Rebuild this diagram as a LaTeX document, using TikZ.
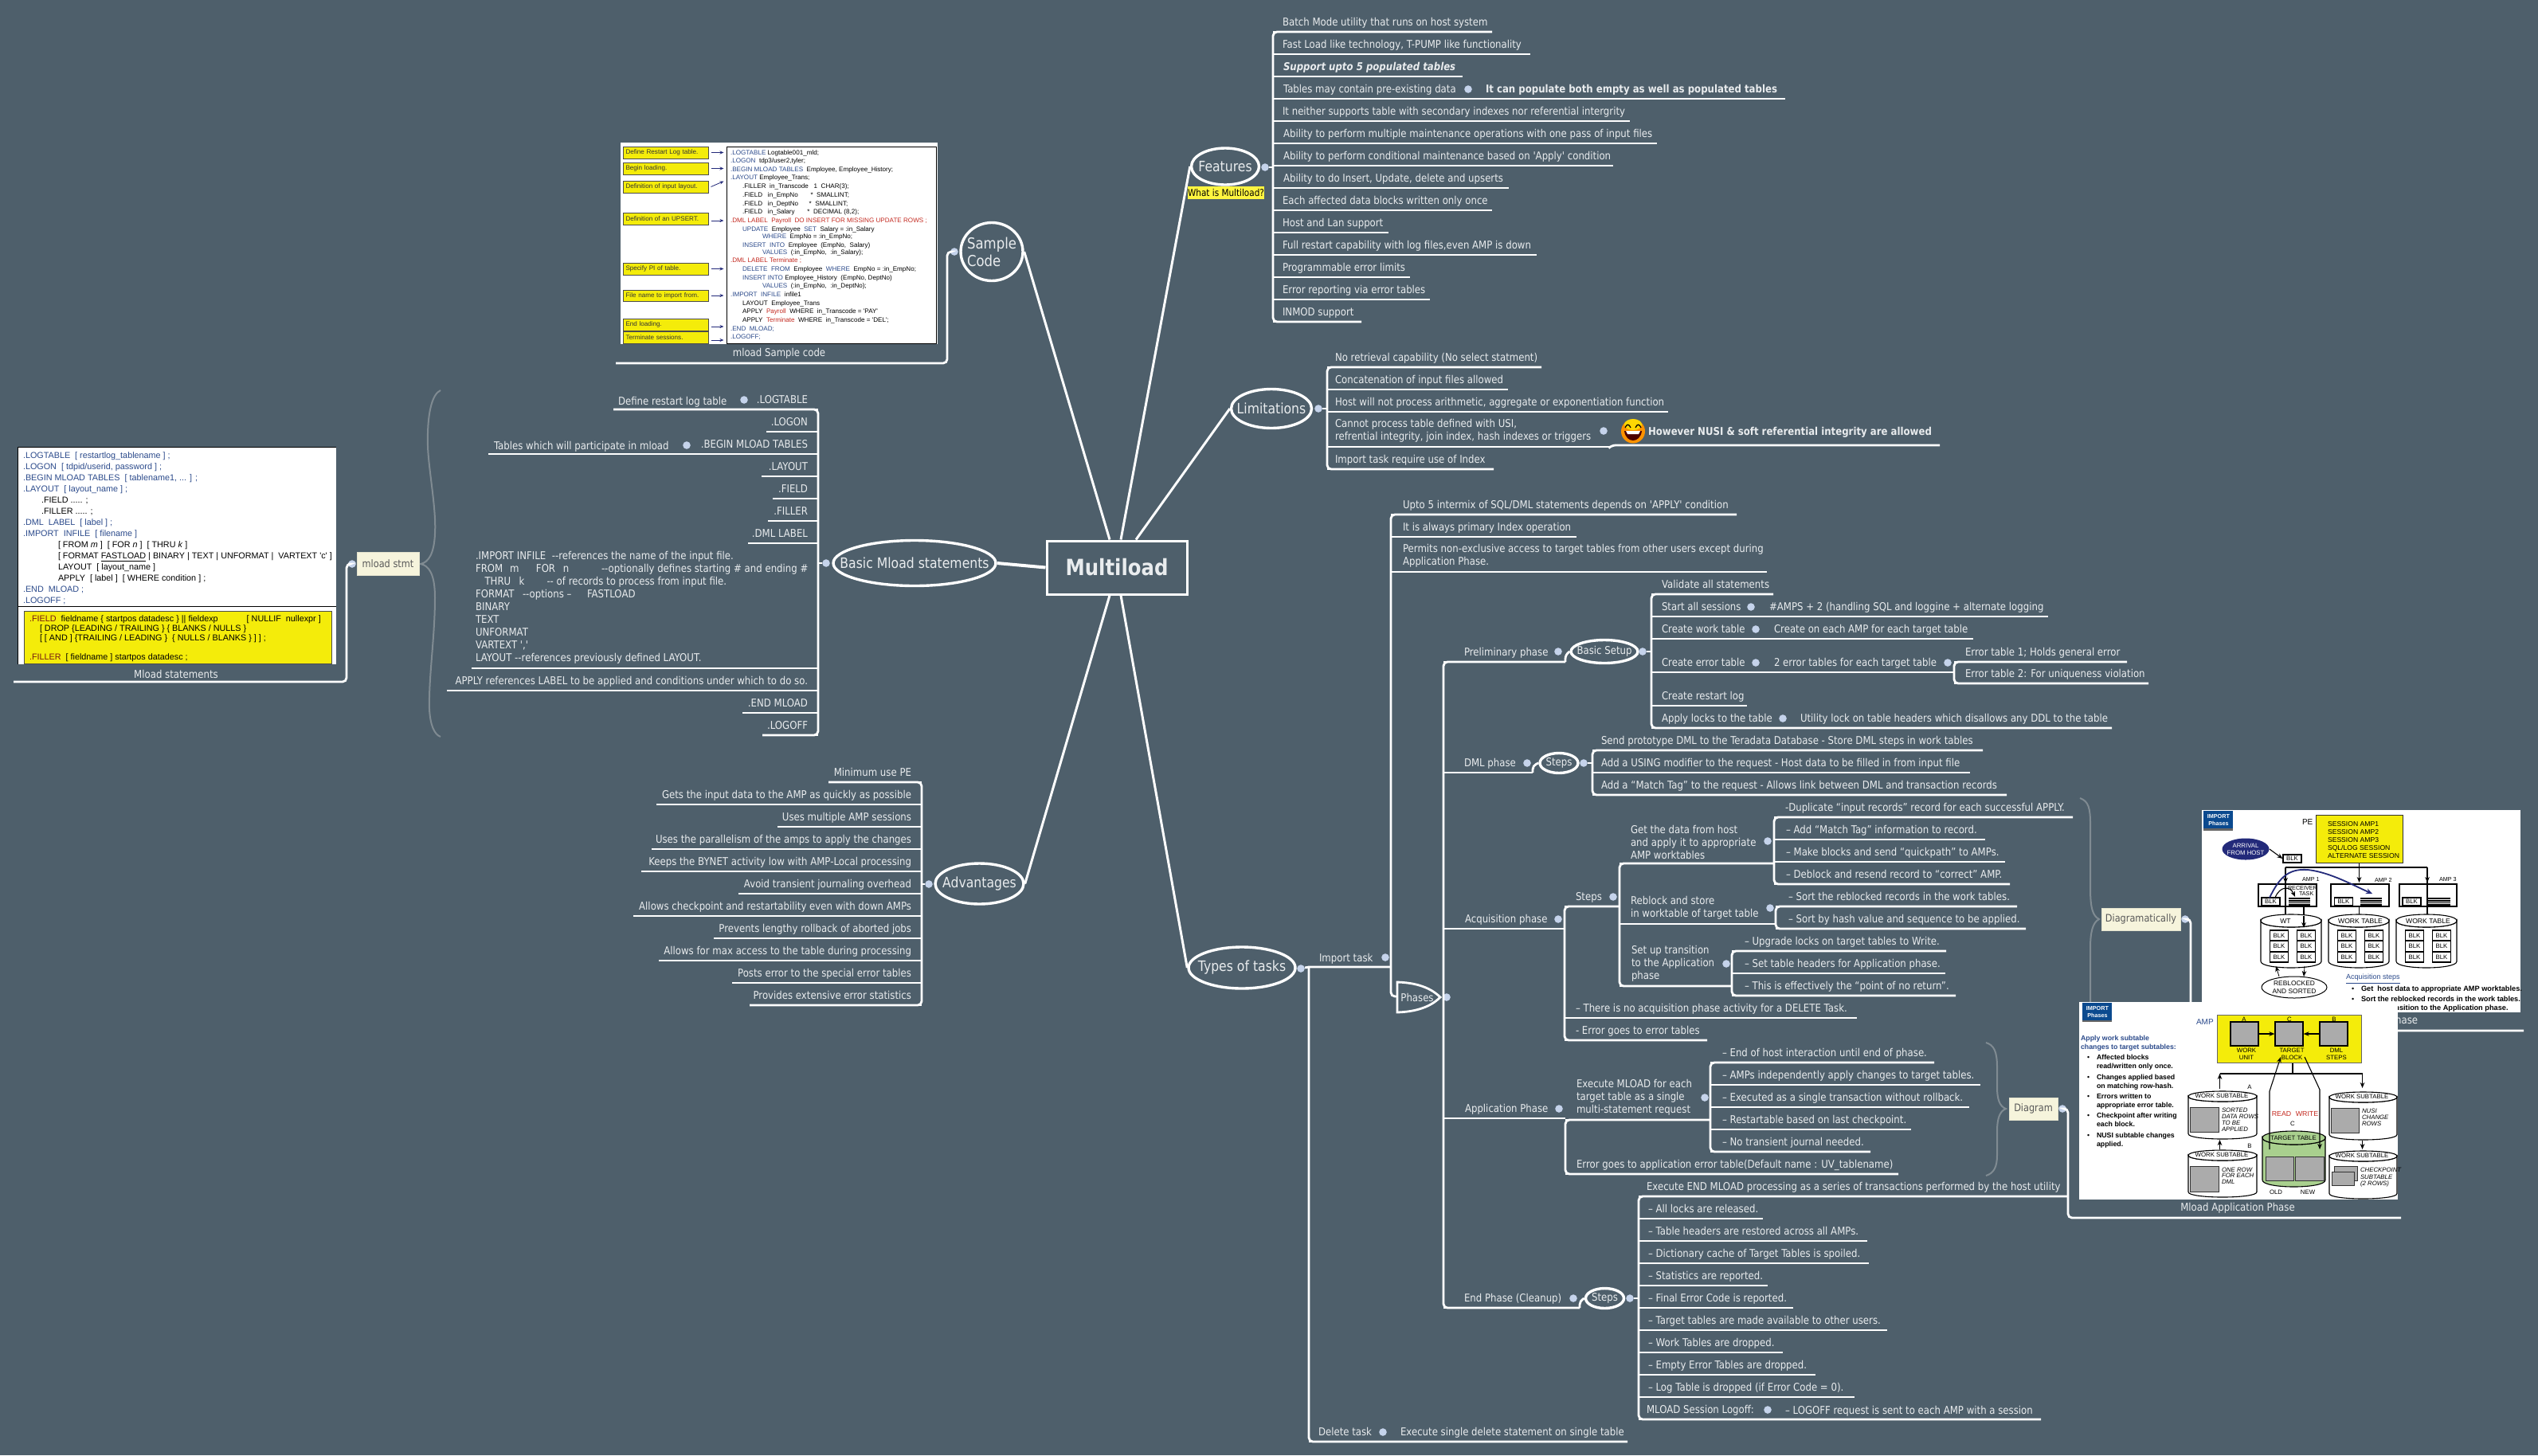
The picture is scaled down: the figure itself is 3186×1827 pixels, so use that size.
\documentclass[tikz,border=0pt]{standalone}
\usepackage{fontspec}
\usetikzlibrary{shapes.geometric,arrows.meta}
\newfontfamily\mmf[FakeStretch=0.87]{DejaVu Sans}
\newfontfamily\arf{Liberation Sans}
\newcommand\mm{\mmf\fontsize{6.75pt}{8pt}\selectfont}
\definecolor{bgc}{HTML}{4E5F6B}
\definecolor{tx}{HTML}{E9ECEE}
\definecolor{dotc}{HTML}{C5D3EB}
\definecolor{brc}{HTML}{808B92}
\definecolor{notec}{HTML}{F6F4DC}
\definecolor{ybox}{HTML}{F4EC0A}
\definecolor{cbl}{HTML}{2B4A8B}
\definecolor{crd}{HTML}{C42A20}
\definecolor{gbox}{HTML}{ABABAB}
\definecolor{badge}{HTML}{0B4A8F}
\definecolor{navy}{HTML}{232A7A}
\definecolor{grn}{HTML}{A9D08E}
\tikzset{
 lbl/.style={text=tx,font=\mm,inner sep=0pt,outer sep=0pt,anchor=base west},
 lblr/.style={lbl,anchor=base east},
 lblm/.style={lbl,anchor=west,align=left},
 rl/.style={draw=white,line width=1.4pt},
 sp/.style={rl,rounded corners=2.5pt},
 bough/.style={draw=white,line width=1.5pt},
 mdot/.style={circle,fill=dotc,inner sep=0pt,minimum size=4.8pt},
 tshape/.style={ellipse,draw=white,line width=1.7pt,inner sep=0pt},
 topic/.style={inner sep=0pt,text=tx,align=left,font=\mmf\fontsize{9pt}{11pt}\selectfont},
 smalltopic/.style={inner sep=0pt,text=tx,font=\mm},
 notebox/.style={rectangle,fill=notec,draw=notec!85!gray,line width=.3pt,inner sep=0pt,text=black!65,font=\mmf\fontsize{6.5pt}{8pt}\selectfont},
 brace/.style={draw=brc,line width=1pt},
 imgt/.style={inner sep=0pt,outer sep=0pt,anchor=base west,text=black,font=\arf\fontsize{\ifs}{\ifs}\selectfont},
 ln/.style={draw=black,line width=.55pt},
 narr/.style={draw=navy,line width=.4pt,-{Stealth[length=2.5pt,width=2pt]}},
 barr/.style={ln,-{Stealth[length=3.5pt,width=2.8pt]}},
 blk/.style={rectangle,draw=black,line width=.6pt,fill=white,inner sep=0pt,minimum width=11.5pt,minimum height=6.5pt,text=black,font=\arf\fontsize{3.9pt}{4pt}\selectfont},
 x=0.5pt,y=-0.5pt}
\newcounter{tn}
\def\ifs{6pt}\def\yo{4}
\newcommand\Tx[4][]{\stepcounter{tn}\node[imgt,#1] (t\arabic{tn}) at (#2,#3+\yo) {#4};}
\newcommand\Bl[1]{\textcolor{cbl}{#1}}
\newcommand\Rd[1]{\textcolor{crd}{#1}}
% style, name, x, y, width, height, text
\newcommand\Topic[7]{\node[tshape,minimum width=#5,minimum height=#6] (#2) at (#3,#4) {};\node[#1] (#2t) at (#2.center) {#7};}
% name, spine x, rule y, end x, text x, text
\newcommand\Leaf[6]{\node[lbl] (#1) at (#5,#3-8) {#6};
 \coordinate (#1s) at (#2,#3);\coordinate (#1e) at (#4,#3);\draw[rl] (#1s) -- (#1e);}
\newcommand\LeafL[6]{\node[lblr] (#1) at (#5,#3-8) {#6};
 \coordinate (#1s) at (#2,#3);\coordinate (#1e) at (#4,#3);\draw[rl] (#1s) -- (#1e);}
% name, spine x, rule y, end x, text x, centre y, text
\newcommand\LeafM[7]{\node[lblm] (#1) at (#5,#6) {#7};
 \coordinate (#1s) at (#2,#3);\coordinate (#1e) at (#4,#3);\draw[rl] (#1s) -- (#1e);}
\newcommand\Spine[2]{\draw[sp] (#1e) -- (#1s) -- (#2s) -- (#2e);}
\newcommand\Dt[3]{\node[mdot] (#1) at (#2,#3) {};}
\newcommand\Sub[4]{\node[lbl] (#1) at (#2,#3) {#4};}
\newcommand\Cyl[6]{\pgfmathsetmacro\cym{#3+#5/2}\pgfmathsetmacro\cyb{#4-#5/2}\pgfmathsetmacro\cyo{#5*2/3}
 \draw[ln,fill=#6] (#1,\cym) -- (#1,\cyb) .. controls (#1,\cyb+\cyo) and (#2,\cyb+\cyo) .. (#2,\cyb) -- (#2,\cym) .. controls (#2,\cym+\cyo) and (#1,\cym+\cyo) .. (#1,\cym) -- cycle;
 \draw[ln,fill=#6] (#1,\cym) .. controls (#1,\cym-\cyo) and (#2,\cym-\cyo) .. (#2,\cym) .. controls (#2,\cym+\cyo) and (#1,\cym+\cyo) .. (#1,\cym) -- cycle;}
\newcommand\Stack[4]{\fill[black] (#1,#3) rectangle (#2,#4);
 \foreach \q in {0.25,0.5,0.75}{\draw[white,line width=.4pt] (#1,{#3+\q*(#4-#3)}) -- (#2,{#3+\q*(#4-#3)});}}
\newcommand\Badge[4]{\fill[black!60] (#1,#3+2) rectangle (#2,#4+3);\node[rectangle,fill=badge,inner sep=0pt,align=center,text=white,minimum width=18.5pt,minimum height=11pt,anchor=north west,font=\arf\bfseries\fontsize{3.6pt}{4.5pt}\selectfont] (badge#1) at (#1,#3) {IMPORT\\Phases};}
\begin{document}
\begin{tikzpicture}
\useasboundingbox (0,0) rectangle (3186,1827);
\fill[bgc] (0,0) rectangle (3186,1827);

%% root and topics
\node[rectangle,draw=white,line width=1.5pt,minimum width=88pt,minimum height=33.5pt,inner sep=0pt,text=tx,font=\mmf\bfseries\fontsize{14pt}{16pt}\selectfont] (root) at (1402,712.5) {Multiload};
\Topic{topic}{features}{1538}{209}{42.5pt}{23pt}{Features}
\Topic{topic}{limits}{1596}{513}{50.5pt}{24.5pt}{Limitations}
\Topic{topic,font=\mmf\fontsize{9.5pt}{11pt}\selectfont}{sample}{1245}{316}{39pt}{36.5pt}{Sample\\Code}
\Topic{topic}{basic}{1148}{707}{102pt}{28.5pt}{Basic Mload statements}
\Topic{topic}{adv}{1229.5}{1109.5}{55.5pt}{25.5pt}{Advantages}
\Topic{topic}{types}{1559}{1215}{67pt}{26pt}{Types of tasks}
\draw[bough] ([xshift=2.5pt]root.north) -- (features.west);
\draw[bough] ([xshift=12pt]root.north) -- (limits.west);
\draw[bough] ([xshift=-4.5pt]root.north) -- (sample.east);
\draw[bough,line width=2pt] (root.west) -- (basic.east);
\draw[bough] ([xshift=-4.5pt]root.south) -- (adv.east);
\draw[bough] ([xshift=2.5pt]root.south) -- (types.west);

%% Features
\node[rectangle,fill=yellow!75!white,inner sep=0pt,minimum width=47pt,minimum height=8pt,text=black,font=\mmf\fontsize{6pt}{7pt}\selectfont] (whatis) at (1539,242) {What is Multiload?};
\Leaf{fa}{1598}{40}{1873}{1610}{Batch Mode utility that runs on host system}
\Leaf{fb}{1598}{68}{1921}{1610}{Fast Load like technology, T-PUMP like functionality}
\Leaf{fc}{1598}{96}{1836}{1611}{\bfseries\itshape Support upto 5 populated tables}
\Leaf{fd}{1598}{124}{2241}{1611}{Tables may contain pre-existing data}
\Leaf{ff}{1598}{152}{2046}{1610}{It neither supports table with secondary indexes nor referential intergrity}
\Leaf{fg}{1598}{180}{2080}{1611}{Ability to perform multiple maintenance operations with one pass of input files}
\Leaf{fh}{1598}{208}{2025}{1611}{Ability to perform conditional maintenance based on 'Apply' condition}
\Leaf{fi}{1598}{236}{1894}{1611}{Ability to do Insert, Update, delete and upserts}
\Leaf{fj}{1598}{264}{1873}{1610}{Each affected data blocks written only once}
\Leaf{fk}{1598}{292}{1743}{1610}{Host and Lan support}
\Leaf{fl}{1598}{320}{1929}{1610}{Full restart capability with log files,even AMP is down}
\Leaf{fm}{1598}{348}{1770}{1610}{Programmable error limits}
\Leaf{fn}{1598}{376}{1795}{1610}{Error reporting via error tables}
\Leaf{fo}{1598}{404}{1709}{1610}{INMOD support}
\Spine{fa}{fo}
\Dt{fdot}{1588}{210}
\draw[rl] (fdot) -- (1598,210);
\Dt{fddot}{1843}{112}
\Sub{fdb}{1865}{116}{\bfseries It can populate both empty as well as populated tables}

%% Limitations
\Leaf{la}{1666}{461}{1935}{1676}{No retrieval capability (No select statment)}
\Leaf{lb}{1666}{489}{1893}{1676}{Concatenation of input files allowed}
\Leaf{lc}{1666}{517}{2094}{1676}{Host will not process arithmetic, aggregate or exponentiation function}
\LeafM{ld}{1666}{561}{2021}{1676}{541}{Cannot process table defined with USI,\\refrential integrity, join index, hash indexes or triggers}
\Leaf{le}{1666}{589}{1875}{1676}{Import task require use of Index}
\Spine{la}{le}
\Dt{ldot}{1655}{513}
\draw[rl] (ldot) -- (1666,513);
\Dt{lddot}{2013}{541}
\coordinate (ldb1) at (2435,559);
\draw[sp] (lde) -- (2023,559) -- (ldb1);
\Sub{ldb}{2069}{546}{\bfseries However NUSI \& soft referential integrity are allowed}
% smiley
\fill[orange!85!yellow] (2050,541.5) ellipse (15 and 15);
\fill[yellow!75!orange] (2050,533) ellipse (11 and 7);
\draw[black,line width=.6pt] (2040,537) .. controls (2042,532) and (2045,532) .. (2047,537);
\draw[black,line width=.6pt] (2053,537) .. controls (2055,532) and (2058,532) .. (2060,537);
\fill[black!70!red] (2039,541) .. controls (2041,557) and (2059,557) .. (2061,541) -- cycle;
\fill[white] (2041,541) -- (2059,541) -- (2057,545) -- (2043,545) -- cycle;

%% Sample code
\Dt{sdot}{1198}{316}
\coordinate (sa) at (773,456);\coordinate (sb) at (1189,456);\coordinate (sc) at (1189,316);
\draw[sp] (sa) -- (sb) -- (sc) -- (sdot);
\node[lbl,anchor=center] (scap) at (978,444) {mload Sample code};
\fill[white] (779,179) rectangle (1177,432);
\node[rectangle,draw=black,line width=.5pt,minimum width=131.5pt,minimum height=123.5pt,inner sep=0pt] (codebox) at (1043.5,307.5) {};
\def\ifs{4.05pt}\def\yo{2.5}
\foreach \nm/\ya/\yb/\tt in {yl1/184/199/Define Restart Log table.,yl2/204/219/Begin loading.,yl3/227/242/Definition of input layout.,yl4/267/282/Definition of an UPSERT.,yl5/330/345/Specify PI of table.,yl6/364/378/File name to import from.,yl7/400/415/End loading.,yl8/416/431/Terminate sessions.}{
 \pgfmathsetmacro\ym{(\ya+\yb)/2}\pgfmathsetmacro\yh{(\yb-\ya)/2}
 \node[rectangle,draw=black!70,line width=.5pt,fill=ybox,minimum width=53.5pt,minimum height=\yh pt,inner sep=0pt,text width=50pt,align=left,text=black!80,font=\arf\fontsize{4.05pt}{5pt}\selectfont] (\nm) at (835.5,\ym) {\tt};
}
\draw[narr] ([xshift=1.5pt]yl1.east) -- ([xshift=9.5pt]yl1.east);
\draw[narr] ([xshift=1.5pt]yl2.east) -- ([xshift=9.5pt]yl2.east);
\draw[narr] ([xshift=1.5pt]yl3.east) -- ([xshift=9.5pt,yshift=3.5pt]yl3.east);
\draw[narr] ([xshift=1.5pt,yshift=-1.25pt]yl4.east) -- ([xshift=9.5pt,yshift=-1.25pt]yl4.east);
\draw[narr] ([xshift=1.5pt]yl5.east) -- ([xshift=9.5pt]yl5.east);
\draw[narr] ([xshift=1.5pt]yl6.east) -- ([xshift=9.5pt]yl6.east);
\draw[narr] ([xshift=1.5pt,yshift=-1.25pt]yl7.east) -- ([xshift=9.5pt,yshift=-1.25pt]yl7.east);
\draw[narr] ([xshift=1.5pt,yshift=-1.75pt]yl8.east) -- ([xshift=9.5pt,yshift=-1.75pt]yl8.east);
\Tx{917}{192}{\Bl{.LOGTABLE} Logtable001\_mld;}
\Tx{917}{202}{\Bl{.LOGON}\ \ tdp3/user2,tyler;}
\Tx{917}{213}{\Bl{.BEGIN MLOAD TABLES}\ \ Employee, Employee\_History;}
\Tx{917}{223}{\Bl{.LAYOUT} Employee\_Trans;}
\Tx{932}{234}{.FILLER\ \ in\_Transcode\ \ \ 1\ \ CHAR(3);}
\Tx{932}{245}{.FIELD\ \ \ in\_EmpNo\ \ \ \ \ \ \ *\ \ SMALLINT;}
\Tx{932}{256}{.FIELD\ \ \ in\_DeptNo\ \ \ \ \ \ *\ \ SMALLINT;}
\Tx{932}{266}{.FIELD\ \ \ in\_Salary\ \ \ \ \ \ \ *\ \ DECIMAL (8,2);}
\Tx{917}{277}{\Rd{.DML LABEL\ \ Payroll\ \ DO INSERT FOR MISSING UPDATE ROWS ;}}
\Tx{932}{288}{\Bl{UPDATE}\ \ Employee\ \ \Bl{SET}\ \ Salary = :in\_Salary}
\Tx{957}{297}{\Bl{WHERE}\ \ EmpNo = :in\_EmpNo;}
\Tx{932}{308}{\Bl{INSERT\ \ INTO}\ \ Employee\ \ (EmpNo,\ \ Salary)}
\Tx{957}{317}{\Bl{VALUES}\ \ (:in\_EmpNo,\ \ :in\_Salary);}
\Tx{917}{327}{\Rd{.DML LABEL Terminate ;}}
\Tx{932}{338}{\Bl{DELETE\ \ FROM}\ \ Employee\ \ \Bl{WHERE}\ \ EmpNo = :in\_EmpNo;}
\Tx{932}{349}{\Bl{INSERT INTO} Employee\_History\ \ (EmpNo, DeptNo)}
\Tx{957}{359}{\Bl{VALUES}\ \ (:in\_EmpNo,\ \ :in\_DeptNo);}
\Tx{917}{370}{\Bl{.IMPORT\ \ INFILE}\ \ infile1}
\Tx{932}{381}{LAYOUT\ \ Employee\_Trans}
\Tx{932}{391}{APPLY\ \ \Rd{Payroll}\ \ WHERE\ \ in\_Transcode = 'PAY'}
\Tx{932}{402}{APPLY\ \ \Rd{Terminate}\ \ WHERE\ \ in\_Transcode = 'DEL';}
\Tx{917}{413}{\Bl{.END\ \ MLOAD;}}
\Tx{917}{423}{\Bl{.LOGOFF;}}

%% Basic Mload statements
\LeafL{ba}{1027}{514}{770}{1014}{.LOGTABLE}
\LeafL{bb}{1027}{542}{962}{1014}{.LOGON}
\LeafL{bc}{1027}{570}{613}{1014}{.BEGIN MLOAD TABLES}
\LeafL{bd}{1027}{598}{956}{1014}{.LAYOUT}
\LeafL{be}{1027}{626}{970}{1014}{.FIELD}
\LeafL{bf}{1027}{654}{964}{1014}{.FILLER}
\LeafL{bg}{1027}{682}{939}{1014}{.DML LABEL}
\LeafM{bh}{1027}{839}{592}{597}{763}{.IMPORT INFILE\ \ --references the name of the input file.\\
\makebox[21.5pt][l]{FROM}\makebox[16.5pt][l]{m}\makebox[17pt][l]{FOR}\makebox[24pt][l]{n}--optionally defines starting \# and ending \#\\
\hspace*{5.75pt}\makebox[21.5pt][l]{THRU}\makebox[17.5pt][l]{k}-- of records to process from input file.\\
\makebox[29.5pt][l]{FORMAT}\makebox[40.5pt][l]{--options –}FASTLOAD\\
BINARY\\TEXT\\UNFORMAT\\VARTEXT ','\\LAYOUT --references previously defined LAYOUT.}
\LeafL{bi}{1027}{867}{561}{1014}{APPLY references LABEL to be applied and conditions under which to do so.}
\LeafL{bj}{1027}{895}{932}{1014}{.END MLOAD}
\LeafL{bk}{1027}{923}{957}{1014}{.LOGOFF}
\Spine{ba}{bk}
\Dt{bdot}{1037}{707}
\draw[rl] (bdot) -- (1027,707);
\Dt{badot}{934}{502}
\Sub{bab}{776}{508}{Define restart log table}
\Dt{bcdot}{862}{559}
\Sub{bcb}{620}{564}{Tables which will participate in mload}
\draw[brace] (553,490) .. controls (542,495) and (536,520) .. (537,560) .. controls (538,590) and (548,640) .. (546,670) .. controls (545,695) and (538,706) .. (528,708) .. controls (538,710) and (546,720) .. (546,750) .. controls (546,800) and (538,850) .. (539,890) .. controls (540,910) and (545,922) .. (553,925);
\node[notebox,minimum width=39pt,minimum height=14.5pt] (mstmt) at (487,707.5) {mload stmt};
\Dt{mdotn}{442}{708}
\coordinate (ma) at (17,856);\coordinate (mb) at (435,856);\coordinate (mc) at (435,708);
\draw[sp] (ma) -- (mb) -- (mc) -- (mdotn);
\node[lbl,anchor=center] (mcap) at (221,846) {Mload statements};
\fill[white] (22,561) rectangle (422,834);
\draw[black,line width=.5pt] (22.5,834) -- (22.5,561) -- (422,561);
\draw[black,line width=.5pt] (22.5,761) -- (422,761);
\node[rectangle,draw=black!70,fill=ybox,line width=.5pt,inner sep=0pt,minimum width=193pt,minimum height=33pt] (ybx) at (223,800) {};
\def\ifs{5.4pt}\def\yo{4}
\Tx{29}{571}{\Bl{.LOGTABLE\ \ [ restartlog\_tablename ] ;}}
\Tx{29}{585}{\Bl{.LOGON\ \ [ tdpid/userid, password ] ;}}
\Tx{29}{599}{\Bl{.BEGIN MLOAD TABLES\ \ [ tablename1, ... ] ;}}
\Tx{29}{613}{\Bl{.LAYOUT\ \ [ layout\_name ] ;}}
\Tx{52}{627}{.FIELD ..... ;}
\Tx{52}{641}{.FILLER ..... ;}
\Tx{29}{655}{\Bl{.DML\ \ LABEL\ \ [ label ] ;}}
\Tx{29}{669}{\Bl{.IMPORT\ \ INFILE\ \ [ filename ]}}
\Tx{73}{683}{[ FROM \textit{m} ]\ \ [ FOR \textit{n} ]\ \ [ THRU \textit{k} ]}
\Tx{73}{697}{[ FORMAT \underline{FASTLOAD} | BINARY | TEXT | UNFORMAT |\ \ VARTEXT 'c' ]}
\Tx{73}{711}{LAYOUT\ \ [ layout\_name ]}
\Tx{73}{725}{APPLY\ \ [ label ]\ \ [ WHERE condition ] ;}
\Tx{29}{739}{\Bl{.END\ \ MLOAD ;}}
\Tx{29}{753}{\Bl{.LOGOFF ;}}
\Tx{37}{776}{\textcolor{crd!60!black}{.FIELD}\ \ fieldname \{ startpos datadesc \} || fieldexp\hspace{18pt}[ NULLIF\ \ nullexpr ]}
\Tx{50}{788}{[ DROP \{LEADING / TRAILING \} \{ BLANKS / NULLS \}}
\Tx{50}{800}{[ [ AND ] \{TRAILING / LEADING \}\ \ \{ NULLS / BLANKS \} ] ] ;}
\Tx{37}{824}{\textcolor{crd!60!black}{.FILLER}\ \ [ fieldname ] startpos datadesc ;}

%% Advantages
\LeafL{aa}{1157}{982}{1040}{1144}{Minimum use PE}
\LeafL{ab}{1157}{1010}{824}{1144}{Gets the input data to the AMP as quickly as possible}
\LeafL{ac}{1157}{1038}{976}{1144}{Uses multiple AMP sessions}
\LeafL{ad}{1157}{1066}{818}{1144}{Uses the parallelism of the amps to apply the changes}
\LeafL{ae}{1157}{1094}{805}{1144}{Keeps the BYNET activity low with AMP-Local processing}
\LeafL{af}{1157}{1122}{927}{1144}{Avoid transient journaling overhead}
\LeafL{ag}{1157}{1150}{795}{1144}{Allows checkpoint and restartability even with down AMPs}
\LeafL{ah}{1157}{1178}{896}{1144}{Prevents lengthy rollback of aborted jobs}
\LeafL{ai}{1157}{1206}{827}{1144}{Allows for max access to the table during processing}
\LeafL{aj}{1157}{1234}{919}{1144}{Posts error to the special error tables}
\LeafL{ak}{1157}{1262}{941}{1144}{Provides extensive error statistics}
\Spine{aa}{ak}
\Dt{adot}{1166}{1110}
\draw[rl] (adot) -- (1157,1110);

%% Types of tasks
\Dt{tdot}{1633}{1216}
\coordinate (tspine) at (1746,1214);
\draw[rl] (tdot) -- (1643,1214) -- (tspine);
\node[lbl] (import) at (1656,1207) {Import task};
\Dt{idot}{1739}{1202}
\Leaf{dela}{1643}{1810}{2043}{1655}{Delete task}
\draw[sp] (tspine -| delas) -- (delas) -- (delae);
\Dt{deldot}{1736}{1798}
\Sub{delb}{1758}{1802}{Execute single delete statement on single table}
\Leaf{ua}{1746}{646}{2180}{1761}{Upto 5 intermix of SQL/DML statements depends on 'APPLY' condition}
\Leaf{ub}{1746}{674}{1979}{1761}{It is always primary Index operation}
\LeafM{uc}{1746}{718}{2218}{1761}{698}{Permits non-exclusive access to target tables from other users except during\\Application Phase.}
% phases shape
\coordinate (pha) at (1754,1251);
\draw[rl,fill=bgc] (1754,1233) -- (1754,1271) .. controls (1785,1270) and (1800,1260) .. (1808,1252) .. controls (1800,1244) and (1785,1234) .. (1754,1233) -- cycle;
\node[lbl,anchor=center] (phases) at (1779,1252) {Phases};
\draw[sp] (uae) -- (uas) -- (1746,1251) -- (pha);
\Dt{phdot}{1816}{1252}
% phase rows
\Leaf{pa}{1812}{831}{1965}{1838}{Preliminary phase}
\Leaf{pb}{1812}{970}{1924}{1838}{DML phase}
\Leaf{pc}{1812}{1166}{1964}{1839}{Acquisition phase}
\Leaf{pd}{1812}{1404}{1965}{1839}{Application Phase}
\Leaf{pe}{1812}{1642}{1983}{1838}{End Phase (Cleanup)}
\draw[sp] (pae) -- (pas) -- (pes) -- (pee);
% basic setup
\Topic{smalltopic}{bsetup}{2014}{818}{42pt}{14.5pt}{Basic Setup}
\draw[sp] (pae) -- ++(0,-9) -- (bsetup.west);
\Dt{padot}{1956}{818}
\Dt{bsdot}{2062}{818}
\Leaf{sa}{2073}{746}{2226}{2086}{Validate all statements}
\Leaf{sb}{2073}{774}{2571}{2086}{Start all sessions}
\Leaf{sc}{2073}{802}{2477}{2086}{Create work table}
\Leaf{sd}{2073}{844}{2453}{2086}{Create error table}
\Leaf{se}{2073}{886}{2193}{2086}{Create restart log}
\Leaf{sf}{2073}{914}{2651}{2086}{Apply locks to the table}
\Spine{sa}{sf}
\draw[rl] (bsdot) -- (2073,818);
\Dt{sbdot}{2198}{762}\Sub{sbb}{2221}{766}{\#AMPS + 2 (handling SQL and loggine + alternate logging}
\Dt{scdot}{2204}{790}\Sub{scb}{2227}{794}{Create on each AMP for each target table}
\Dt{sddot}{2204}{832}\Sub{sdb}{2227}{836}{2 error tables for each target table}
\Dt{sfdot}{2238}{902}\Sub{sfb}{2260}{906}{Utility lock on table headers which disallows any DDL to the table}
\Dt{sddot2}{2445}{832}
\Leaf{ea}{2453}{831}{2670}{2467}{Error table 1; Holds general error}
\Leaf{eb}{2453}{858}{2697}{2467}{Error table 2: For uniqueness violation}
\Spine{ea}{eb}
% DML
\Topic{smalltopic}{dsteps}{1957}{958}{24pt}{12.5pt}{Steps}
\draw[sp] (pbe) -- ++(0,-9) -- (dsteps.west);
\Dt{pbdot}{1917}{958}
\Dt{dsdot}{1988}{958}
\Leaf{da}{1999}{942}{2489}{2010}{Send prototype DML to the Teradata Database - Store DML steps in work tables}
\Leaf{db}{1999}{970}{2473}{2010}{Add a USING modifier to the request - Host data to be filled in from input file}
\Leaf{dc}{1999}{998}{2519}{2010}{Add a “Match Tag” to the request - Allows link between DML and transaction records}
\Spine{da}{dc}
\draw[rl] (dsdot) -- (1999,958);
% Acquisition
\Dt{pcdot}{1956}{1154}
\Leaf{qa}{1964}{1138}{2033}{1978}{Steps}
\Leaf{qb}{1964}{1278}{2331}{1978}{– There is no acquisition phase activity for a DELETE Task.}
\Leaf{qc}{1964}{1306}{2143}{1978}{- Error goes to error tables}
\Spine{qa}{qc}
\Dt{qadot}{2025}{1126}
\LeafM{ga}{2033}{1084}{2227}{2047}{1057}{Get the data from host\\and apply it to appropriate\\AMP worktables}
\LeafM{gb}{2033}{1160}{2229}{2047}{1140}{Reblock and store\\in worktable of target table}
\LeafM{gc}{2033}{1238}{2174}{2048}{1210}{Set up transition\\to the Application\\phase}
\Spine{ga}{gc}
\Dt{gadot}{2219}{1056}\Dt{gbdot}{2222}{1140}\Dt{gcdot}{2167}{1210}
\Leaf{g1}{2227}{1026}{2602}{2241}{-Duplicate “input records” record for each successful APPLY.}
\Leaf{g2}{2227}{1054}{2492}{2242}{– Add “Match Tag” information to record.}
\Leaf{g3}{2227}{1082}{2517}{2242}{– Make blocks and send “quickpath” to AMPs.}
\Leaf{g4}{2227}{1110}{2523}{2242}{– Deblock and resend record to “correct” AMP.}
\Spine{g1}{g4}
\Leaf{r1}{2229}{1138}{2532}{2245}{– Sort the reblocked records in the work tables.}
\Leaf{r2}{2229}{1166}{2543}{2245}{– Sort by hash value and sequence to be applied.}
\Spine{r1}{r2}
\Leaf{s1}{2174}{1194}{2443}{2190}{– Upgrade locks on target tables to Write.}
\Leaf{s2}{2174}{1222}{2442}{2190}{– Set table headers for Application phase.}
\Leaf{s3}{2174}{1250}{2455}{2190}{– This is effectively the “point of no return”.}
\Spine{s1}{s3}
% Application
\Dt{pddot}{1957}{1392}
\LeafM{x0}{1965}{1406}{2147}{1979}{1378}{Execute MLOAD for each\\target table as a single\\multi-statement request}
\Leaf{x9}{1965}{1474}{2383}{1979}{Error goes to application error table(Default name : UV\_tablename)}
\Spine{x0}{x9}
\Dt{x0dot}{2140}{1378}
\Leaf{x1}{2147}{1334}{2428}{2162}{– End of host interaction until end of phase.}
\Leaf{x2}{2147}{1362}{2486}{2162}{– AMPs independently apply changes to target tables.}
\Leaf{x3}{2147}{1390}{2472}{2162}{– Executed as a single transaction without rollback.}
\Leaf{x4}{2147}{1418}{2399}{2162}{– Restartable based on last checkpoint.}
\Leaf{x5}{2147}{1446}{2348}{2162}{– No transient journal needed.}
\Spine{x1}{x5}
% End
\Topic{smalltopic}{esteps}{2014.5}{1630}{24pt}{12.5pt}{Steps}
\draw[sp] (pee) -- ++(0,-9) -- (esteps.west);
\Dt{pedot}{1975}{1630}
\Dt{esdot}{2046}{1630}
\Leaf{z0}{2057}{1502}{2595}{2067}{Execute END MLOAD processing as a series of transactions performed by the host utility}
\Leaf{z1}{2057}{1530}{2213}{2069}{– All locks are released.}
\Leaf{z2}{2057}{1558}{2344}{2069}{– Table headers are restored across all AMPs.}
\Leaf{z3}{2057}{1586}{2346}{2069}{– Dictionary cache of Target Tables is spoiled.}
\Leaf{z4}{2057}{1614}{2219}{2069}{– Statistics are reported.}
\Leaf{z5}{2057}{1642}{2251}{2069}{– Final Error Code is reported.}
\Leaf{z6}{2057}{1670}{2369}{2069}{– Target tables are made available to other users.}
\Leaf{z7}{2057}{1698}{2238}{2069}{– Work Tables are dropped.}
\Leaf{z8}{2057}{1726}{2279}{2069}{– Empty Error Tables are dropped.}
\Leaf{z9}{2057}{1754}{2328}{2069}{– Log Table is dropped (if Error Code = 0).}
\Leaf{za}{2057}{1782}{2562}{2067}{MLOAD Session Logoff:}
\Spine{z0}{za}
\draw[rl] (esdot) -- (2057,1630);
\Dt{zadot}{2219}{1770}
\Sub{zab}{2241}{1775}{– LOGOFF request is sent to each AMP with a session}

%% Braces and notes
\draw[brace] (2611,1002) .. controls (2622,1006) and (2624,1015) .. (2624,1035) -- (2624,1115) .. controls (2624,1140) and (2627,1150) .. (2635,1154) .. controls (2627,1158) and (2624,1170) .. (2624,1190) -- (2624,1280);
\draw[brace] (2493,1309) .. controls (2503,1312) and (2507,1320) .. (2507,1340) -- (2507,1365) .. controls (2507,1380) and (2510,1389) .. (2518,1392) .. controls (2510,1395) and (2507,1405) .. (2507,1420) -- (2507,1450) .. controls (2507,1465) and (2503,1473) .. (2493,1476);
\node[notebox,minimum width=49.5pt,minimum height=14pt] (ndia) at (2687.5,1154) {Diagramatically};
\node[notebox,minimum width=30.5pt,minimum height=14pt] (ndg) at (2552.5,1392) {Diagram};
\Dt{ndiadot}{2743}{1154}
\Dt{ndgdot}{2589}{1392}

%% Acquisition image
\coordinate (aq1) at (2750,1294);\coordinate (aq2) at (3168,1294);
\draw[sp] (ndiadot) -- (2750,1154) -- (aq1) -- (aq2);
\node[lbl,anchor=center] (aqcap) at (2964,1282) {Mload Acquisition Phase};
\fill[white] (2764,1017) rectangle (3164,1271);
\Badge{2766}{2803}{1018}{1040}
\def\ifs{5pt}\def\yo{3}
\Tx{2890}{1032}{PE}
\node[rectangle,draw=black!80,fill=ybox,line width=.5pt,inner sep=0pt,minimum width=54.5pt,minimum height=30pt] (pebox) at (2961.5,1053) {};
\def\ifs{4.3pt}
\Tx{2922}{1034}{SESSION AMP1}\Tx{2922}{1044}{SESSION AMP2}\Tx{2922}{1054}{SESSION AMP3}\Tx{2922}{1064}{SQL/LOG SESSION}\Tx{2922}{1074}{ALTERNATE SESSION}
\node[ellipse,fill=navy,inner sep=0pt,minimum width=29.5pt,minimum height=13.5pt] (arrival) at (2819,1066) {};
\node[inner sep=0pt,align=center,text=white,font=\arf\fontsize{3.9pt}{4.6pt}\selectfont] (arrivalt) at (arrival.center) {ARRIVAL\\FROM HOST};
\node[blk,minimum height=5pt] (blk0) at (2877.5,1078) {BLK};
\draw[barr] (arrival.east) -- (blk0.west);
\coordinate (amp1t) at (2869,1089);\coordinate (amp3t) at (3047,1089);
\draw[ln] (amp1t) -- (amp3t);
\draw[barr] (amp1t) -- (2869,1109);
\draw[barr] (amp3t) -- (3047,1108);
\draw[barr,line width=.7pt] (pebox.south) -- (2961.5,1108);
\draw[ln,fill=white] (2835,1110) rectangle (2908,1138);
\draw[ln,fill=white] (2926,1110) rectangle (2999,1138);
\draw[ln,fill=white] (3012,1110) rectangle (3084,1138);
\draw[ln] (2869,1089) -- (2869,1148);
\draw[ln,line width=.8pt] (2961.5,1138) -- (2961.5,1148);
\draw[ln,line width=.8pt] (3047,1089) -- (3047,1148);
\def\ifs{3.6pt}\def\yo{2}
\Tx{2890}{1104}{AMP 1}\Tx{2981}{1105}{AMP 2}\Tx{3062}{1104}{AMP 3}
\Tx{2872}{1115}{RECEIVER}\Tx{2886}{1122}{TASK}
\node[blk,minimum height=5pt] (blka) at (2850.5,1132) {BLK};
\node[blk,minimum height=5pt] (blkb) at (2942,1132) {BLK};
\node[blk,minimum height=5pt] (blkc) at (3027.5,1132) {BLK};
\Stack{2873}{2900}{1127}{1137}\Stack{2963}{2990}{1127}{1137}\Stack{3048}{3076}{1127}{1137}
\draw[barr] (2856,1127) .. controls (2862,1112) and (2875,1112) .. (2881,1126);
\draw[barr] (2892,1137) -- (2892,1162);
\Cyl{2838}{2914}{1148}{1215}{16}{white}
\Cyl{2923}{2999}{1148}{1215}{16}{white}
\Cyl{3008}{3084}{1148}{1215}{16}{white}
\draw[barr] (2892,1150) -- (2892,1165);
\node[inner sep=0pt,text=black,font=\arf\fontsize{4.3pt}{5pt}\selectfont] (wt1) at (2869,1157) {WT};
\node[inner sep=0pt,text=black,font=\arf\fontsize{4.3pt}{5pt}\selectfont] (wt2) at (2963,1157) {WORK TABLE};
\node[inner sep=0pt,text=black,font=\arf\fontsize{4.3pt}{5pt}\selectfont] (wt3) at (3048,1157) {WORK TABLE};
\foreach \cx/\cn in {2861/a,2895/b,2946/c,2980/d,3031/e,3065/f}{\foreach \ry/\rn in {1174.5/1,1188/2,1201.5/3}{\node[blk] (k\cn\rn) at (\cx,\ry) {BLK};}}
\node[ellipse,draw=black,line width=.5pt,fill=white,inner sep=0pt,minimum width=41pt,minimum height=13.5pt] (rebl) at (2880,1239.5) {};
\node[inner sep=0pt,align=center,text=black,font=\arf\fontsize{4.2pt}{5pt}\selectfont] (reblt) at (rebl.center) {REBLOCKED\\AND SORTED};
\draw[barr,line width=.4pt] (2861,1226) -- (2857,1213);
\draw[barr,line width=.4pt] (2893,1213) -- (2892,1226);
\draw[navy,line width=.9pt,-{Stealth[length=4pt,width=3.5pt]}] (2849,1127) .. controls (2860,1105) and (2870,1090) .. (2897,1092) .. controls (2925,1095) and (2955,1112) .. (2978,1122);
\def\ifs{4.5pt}\def\yo{2.5}
\Tx[text=cbl]{2945}{1227}{\underline{Acquisition steps}}
\Tx{2952}{1242}{•}\Tx{2952}{1255}{•}
\tikzset{bld/.style={font=\arf\bfseries\fontsize{4.6pt}{5pt}\selectfont}}
\Tx[bld]{2964}{1242}{Get\ \ host data to appropriate AMP worktables.}
\Tx[bld]{2964}{1255}{Sort the reblocked records in the work tables.}
\Tx[bld]{2964}{1266}{Set up transition to the Application phase.}

%% Application image
\coordinate (ap1) at (2596,1529);\coordinate (ap2) at (3014,1529);
\draw[sp] (ndgdot) -- (2596,1392) -- (ap1) -- (ap2);
\node[lbl,anchor=center] (apcap) at (2809,1517) {Mload Application Phase};
\fill[white] (2610,1258) rectangle (3010,1506);
\Badge{2614}{2651}{1259}{1280}
\def\ifs{5pt}\def\yo{3}
\Tx[text=cbl]{2757}{1283}{AMP}
\node[rectangle,draw=black!60,fill=ybox,line width=.5pt,inner sep=0pt,minimum width=90.5pt,minimum height=30pt] (aybox) at (2873.5,1304) {};
\foreach \nm/\cx in {ga1/2817.5,ga2/2873.5,ga3/2929.5}{\node[rectangle,draw=black,fill=gbox,line width=.6pt,inner sep=0pt,minimum width=17.5pt,minimum height=15pt] (\nm) at (\cx,1298) {};}
\draw[barr] (ga1.east) -- (ga2.west);
\draw[barr] (ga3.west) -- (ga2.east);
\tikzset{ct/.style={inner sep=0pt,text=black,align=center,font=\arf\fontsize{3.9pt}{4.6pt}\selectfont}}
\node[ct] (la1) at (2817,1279.5) {A};\node[ct] (la2) at (2874,1279.5) {C};\node[ct] (la3) at (2930,1279.5) {B};
\node[ct] (wu) at (2820,1323.5) {WORK\\UNIT};\node[ct] (tb) at (2877,1323.5) {TARGET\\BLOCK};\node[ct] (ds) at (2933,1323.5) {DML\\STEPS};
\coordinate (jn) at (2878,1348);
\draw[ln,line width=.8pt] (aybox.south -| jn) -- (jn);
\coordinate (jl) at (2786.5,1348);\coordinate (jr) at (2965.5,1348);
\draw[ln,line width=.7pt] (jl) -- (jr);
\draw[ln,line width=.7pt] (jl) -- (2786.5,1367);
\draw[barr] (2786.5,1356) -- (jl);
\draw[barr,line width=.7pt] (jr) -- (2965.5,1366);
\Cyl{2747}{2833}{1370}{1430}{13}{white}
\Cyl{2747}{2833}{1444}{1503}{13}{white}
\Cyl{2924}{3009}{1371}{1431}{13}{white}
\Cyl{2924}{3009}{1445}{1505}{13}{white}
\Cyl{2840}{2919}{1420}{1490}{17}{grn}
\draw[barr] (2849,1443) -- (2849,1370) -- (2863,1327);
\draw[barr] (2893,1327) -- (2912,1368) -- (2912,1443);
\draw[barr] (2786.5,1443) -- (2786.5,1431);
\draw[barr,line width=.7pt] (2965.5,1432) -- (2965.5,1443);
\foreach \nm/\xa/\xb/\ya/\yb in {gb1/2749/2785/1390/1421,gb2/2749/2785/1464/1496,gb3/2926/2961/1391/1422,gb4/2930/2959/1464/1482,gb5/2927/2955/1471/1488,gb6/2844/2879/1452/1482,gb7/2881/2917/1452/1482}{
 \pgfmathsetmacro\cxx{(\xa+\xb)/2}\pgfmathsetmacro\cyy{(\ya+\yb)/2}\pgfmathsetmacro\ww{(\xb-\xa)/2}\pgfmathsetmacro\hh{(\yb-\ya)/2}
 \node[rectangle,draw=black!80,fill=gbox,line width=.5pt,inner sep=0pt,minimum width=\ww pt,minimum height=\hh pt] (\nm) at (\cxx,\cyy) {};}
\foreach \nm/\cx/\cy/\tt in {wsa/2789/1376/WORK SUBTABLE,wsb/2789/1450/WORK SUBTABLE,wsc/2965/1377/WORK SUBTABLE,wsd/2965/1451/WORK SUBTABLE,ttt/2879/1429/TARGET TABLE,old/2857/1497/OLD,new/2897/1497/NEW}{\node[ct] (\nm) at (\cx,\cy) {\tt};}
\node[ct] (lA) at (2824,1365) {A};\node[ct] (lB) at (2824,1439) {B};\node[ct] (lC) at (2878,1411) {C};
\def\ifs{3.9pt}\def\yo{2}
\foreach \px/\py/\tt in {2789/1394/SORTED,2789/1402/DATA ROWS,2789/1410/TO BE,2789/1418/APPLIED,2789/1469/ONE ROW,2789/1476/FOR EACH,2789/1484/DML,2965/1395/NUSI,2965/1403/CHANGE,2965/1411/ROWS,2963/1469/CHECKPOINT,2963/1478/SUBTABLE,2963/1486/(2 ROWS)}{\Tx[font=\arf\itshape\fontsize{3.9pt}{4pt}\selectfont]{\px}{\py}{\tt}}
\node[inner sep=0pt,text=crd,font=\arf\fontsize{4.4pt}{5pt}\selectfont] (rd) at (2864,1398) {READ};
\node[inner sep=0pt,text=crd,font=\arf\fontsize{4.4pt}{5pt}\selectfont] (wr) at (2896,1398) {WRITE};
\def\ifs{4.4pt}\def\yo{2.5}
\Tx[font=\arf\bfseries\fontsize{4.4pt}{5pt}\selectfont,text=cbl]{2612}{1304}{Apply work subtable}
\Tx[font=\arf\bfseries\fontsize{4.4pt}{5pt}\selectfont,text=cbl]{2612}{1315}{changes to target subtables:}
\foreach \py in {1328,1353,1377,1401,1426}{\Tx{2620}{\py}{•}}
\foreach \py/\tt in {1328/Affected blocks,1339/{read/written only once.},1353/Changes applied based,1364/on matching row-hash.,1377/Errors written to,1388/appropriate error table.,1401/Checkpoint after writing,1412/each block.,1426/NUSI subtable changes,1437/applied.}{\Tx[font=\arf\bfseries\fontsize{4.4pt}{5pt}\selectfont]{2632}{\py}{\tt}}
\end{tikzpicture}
\end{document}
